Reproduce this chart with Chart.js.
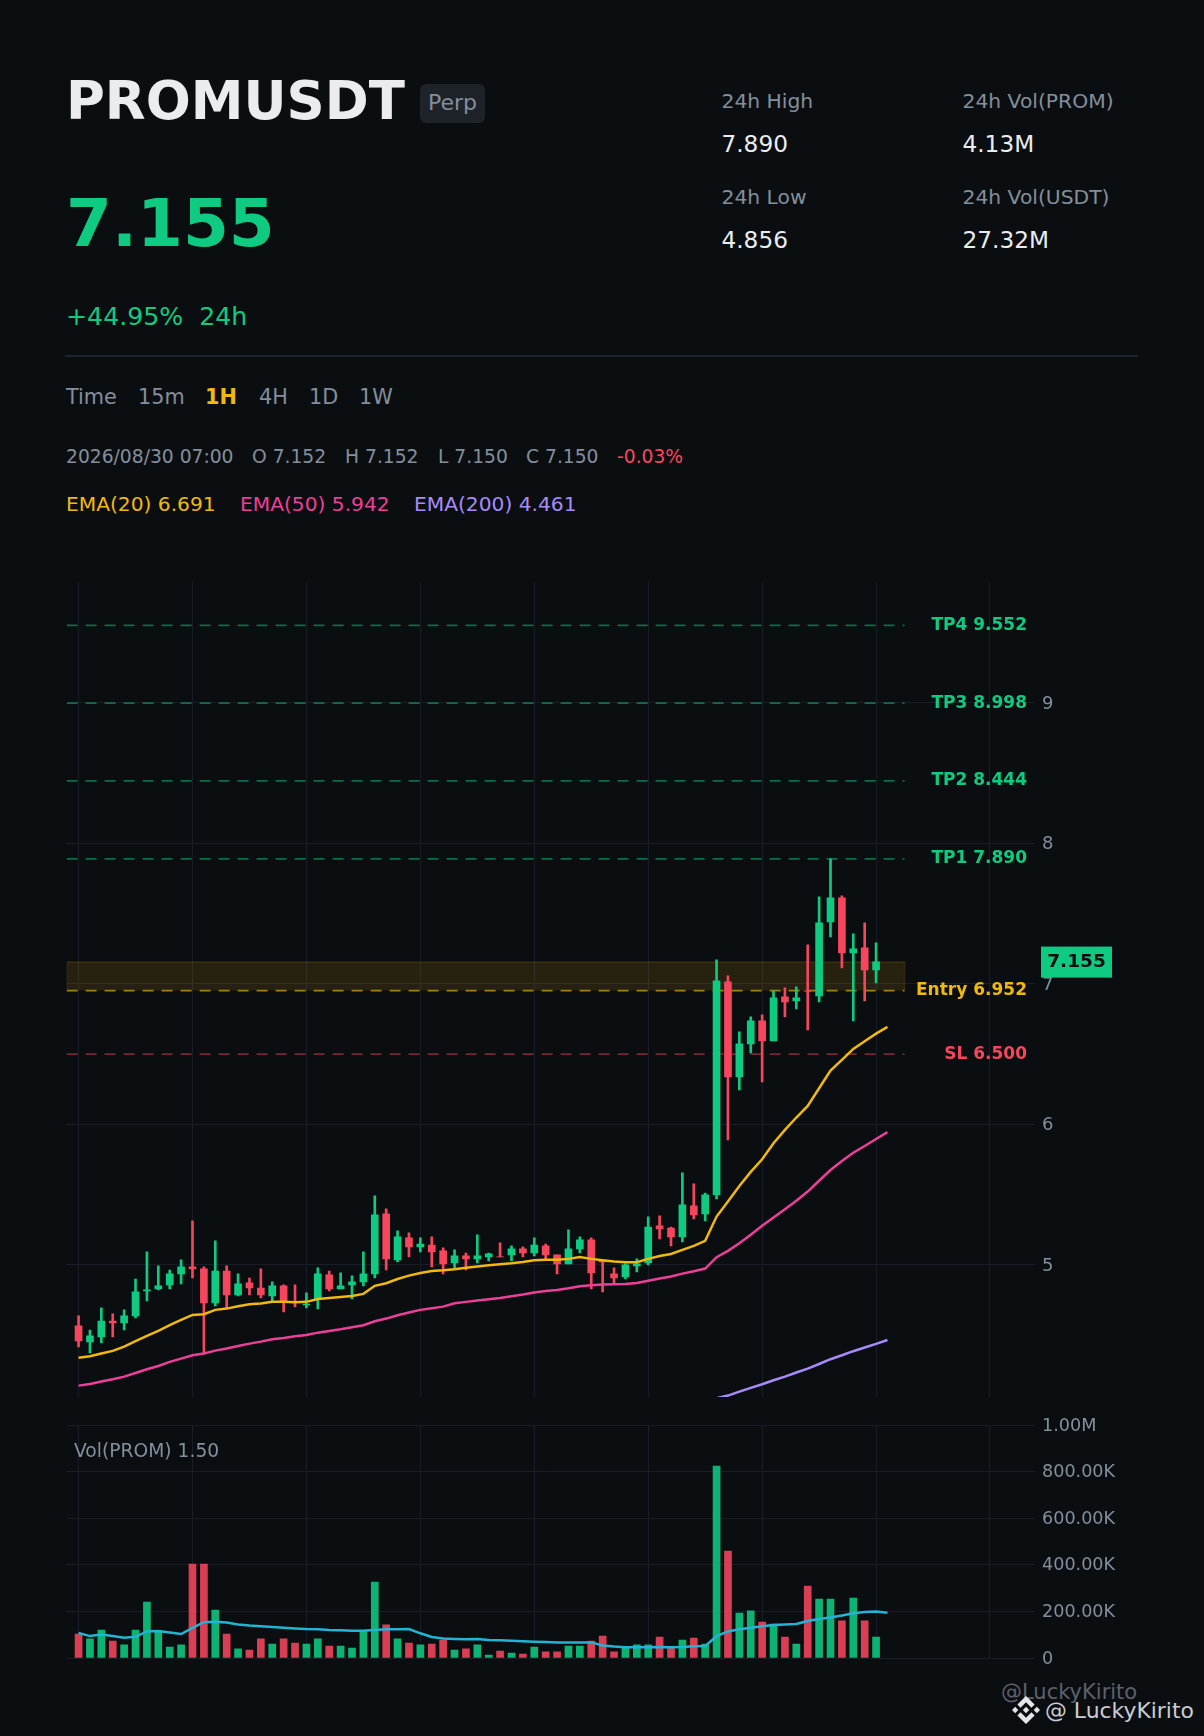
<!DOCTYPE html>
<html>
<head>
<meta charset="utf-8">
<title>PROMUSDT Perp</title>
<script src="https://cdn.jsdelivr.net/npm/chart.js@4"></script>
<style>
   html, body { margin: 0; padding: 0; background: #0b0e11; }
   #page { position: relative; width: 1204px; height: 1736px; background: #0b0e11; overflow: hidden;
      font-family: "DejaVu Sans", sans-serif; color: #848e9c; }
   #page canvas { position: absolute; left: 0; }
   .t { position: absolute; white-space: pre; line-height: 1; }
   .label { font-size: 20.3px; color: #848e9c; }
   .value { font-size: 23.2px; color: #eaecef; }
   .tab { font-size: 20.8px; color: #848e9c; top: 387px; }
   .ohlc { font-size: 18.7px; color: #848e9c; top: 448px; }
   .ema { font-size: 20.2px; top: 494px; }
   #divider { position: absolute; left: 65px; top: 355px; width: 1073px; height: 2px; background: #1e2330; }
   #perp { position: absolute; left: 420px; top: 84px; width: 65px; height: 39px; border-radius: 6px;
      background: #1e2329; color: #848e9c; font-size: 22px; line-height: 38px; text-align: center; }
</style>
</head>
<body>
<div id="page">
   <div class="t" style="left:66px;top:74px;font-size:53px;font-weight:bold;color:#eaecef">PROMUSDT</div>
   <div id="perp">Perp</div>
   <div class="t" style="left:66px;top:191px;font-size:66px;font-weight:bold;color:#0ecb81">7.155</div>
   <div class="t" style="left:66px;top:304px;font-size:25.2px;color:#0ecb81">+44.95%  24h</div>

   <div class="t label" style="left:721.5px;top:91px">24h High</div>
   <div class="t value" style="left:721.5px;top:132px">7.890</div>
   <div class="t label" style="left:962.5px;top:91px">24h Vol(PROM)</div>
   <div class="t value" style="left:962.5px;top:132px">4.13M</div>
   <div class="t label" style="left:721.5px;top:187px">24h Low</div>
   <div class="t value" style="left:721.5px;top:228px">4.856</div>
   <div class="t label" style="left:962.5px;top:187px">24h Vol(USDT)</div>
   <div class="t value" style="left:962.5px;top:228px">27.32M</div>

   <div id="divider"></div>

   <div class="t tab" style="left:66px">Time</div>
   <div class="t tab" style="left:138px">15m</div>
   <div class="t tab" style="left:205px;color:#f0b90b;font-weight:bold">1H</div>
   <div class="t tab" style="left:259px">4H</div>
   <div class="t tab" style="left:309px">1D</div>
   <div class="t tab" style="left:359px">1W</div>

   <div class="t ohlc" style="left:66px">2026/08/30 07:00</div>
   <div class="t ohlc" style="left:252px">O 7.152</div>
   <div class="t ohlc" style="left:345px">H 7.152</div>
   <div class="t ohlc" style="left:438px">L 7.150</div>
   <div class="t ohlc" style="left:526px">C 7.150</div>
   <div class="t ohlc" style="left:617px;color:#f6465d">-0.03%</div>

   <div class="t ema" style="left:66px;color:#f0b90b">EMA(20) 6.691</div>
   <div class="t ema" style="left:240px;color:#ec3f98">EMA(50) 5.942</div>
   <div class="t ema" style="left:414px;color:#a78bfa">EMA(200) 4.461</div>

   <canvas id="price-chart" width="1204" height="853" style="top:563px"></canvas>
   <canvas id="volume-chart" width="1204" height="271" style="top:1406px"></canvas>

   <div class="t" style="left:74px;top:1442px;font-size:18.7px;color:#848e9c">Vol(PROM) 1.50</div>

   <div class="t" style="left:1001px;top:1682px;font-size:21px;color:#5b616b">@LuckyKirito</div>
   <svg style="position:absolute;left:1012px;top:1696px" width="28" height="28" viewBox="0 0 126.61 126.61" fill="#e3e5e8">
      <path d="m38.73 53.2 24.59-24.58 24.6 24.6 14.3-14.31L63.32 0 24.43 38.9z"/>
      <path d="m0 63.31 14.3-14.31 14.31 14.31-14.31 14.3z"/>
      <path d="m38.73 73.41 24.59 24.59 24.6-24.6 14.31 14.29-38.9 38.91-38.91-38.88-.02-.02z"/>
      <path d="m98 63.31 14.3-14.31 14.31 14.3-14.31 14.32z"/>
      <path d="m77.83 63.3-14.51-14.52-10.73 10.73-1.24 1.23-2.54 2.54 14.51 14.5 14.51-14.47z"/>
   </svg>
   <div class="t" style="left:1045px;top:1700px;font-size:21.9px;color:#c9ccd1">@ LuckyKirito</div>
</div>

<script>
/*=======================================
 Data
========================================*/
const opens = [4.566,4.452,4.488,4.601,4.587,4.637,4.815,4.829,4.858,4.936,
   4.986,4.972,4.730,4.957,4.786,4.872,4.836,4.779,4.851,4.741,
   4.715,4.758,4.929,4.829,4.858,4.879,4.936,5.363,5.036,5.192,
   5.128,5.142,5.100,5.014,5.064,5.043,5.057,5.057,5.071,5.114,
   5.085,5.135,5.071,5.007,5.114,5.178,5.028,4.936,4.915,4.993,
   5.014,5.278,5.263,5.199,5.420,5.363,5.498,7.014,6.338,6.573,
   6.737,6.594,6.907,6.879,6.950,6.915,7.441,7.612,7.221,7.256,7.100];
const highs = [4.637,4.537,4.694,4.651,4.680,4.900,5.093,4.993,4.964,5.036,
   5.313,4.986,5.171,4.993,4.936,4.907,4.972,4.879,4.858,4.858,
   4.801,4.979,4.957,4.943,4.922,5.093,5.491,5.399,5.242,5.228,
   5.192,5.199,5.121,5.107,5.085,5.214,5.085,5.157,5.135,5.128,
   5.192,5.149,5.071,5.249,5.199,5.192,5.028,4.979,5.007,5.043,
   5.342,5.349,5.270,5.655,5.577,5.512,7.171,7.057,6.658,6.765,
   6.779,6.950,6.972,6.979,7.278,7.619,7.890,7.626,7.356,7.434,7.292];
const lows = [4.416,4.374,4.445,4.488,4.537,4.623,4.744,4.822,4.829,4.865,
   4.907,4.367,4.708,4.694,4.779,4.786,4.765,4.737,4.665,4.701,
   4.694,4.687,4.815,4.829,4.758,4.851,4.907,4.964,5.021,5.057,
   5.093,4.986,4.936,4.979,4.964,5.014,5.028,5.057,5.028,5.057,
   5.064,5.036,4.936,5.007,5.085,4.829,4.808,4.865,4.900,4.950,
   5.000,5.185,5.135,5.164,5.327,5.313,5.470,5.890,6.246,6.509,
   6.302,6.594,6.765,6.822,6.673,6.872,7.335,7.114,6.737,6.879,7.007];
const closes = [4.459,4.495,4.601,4.587,4.637,4.808,4.822,4.851,4.936,4.986,
   4.972,4.730,4.957,4.786,4.865,4.836,4.786,4.851,4.737,4.732,
   4.722,4.936,4.829,4.851,4.879,4.936,5.356,5.043,5.199,5.128,
   5.149,5.093,5.007,5.064,5.043,5.064,5.078,5.056,5.114,5.085,
   5.142,5.071,5.007,5.114,5.178,4.943,5.021,4.907,5.000,5.007,
   5.270,5.256,5.199,5.427,5.356,5.498,7.021,6.338,6.573,6.737,
   6.594,6.900,6.872,6.900,6.949,7.434,7.612,7.221,7.249,7.100,7.157];

// the moving averages run one step past the last candle
const ema20 = [4.340,4.350,4.369,4.388,4.419,4.457,4.495,4.530,4.571,4.609,
   4.644,4.649,4.680,4.689,4.706,4.720,4.725,4.737,4.737,4.734,
   4.737,4.758,4.765,4.772,4.779,4.794,4.851,4.870,4.900,4.924,
   4.943,4.957,4.962,4.969,4.979,4.988,4.998,5.005,5.012,5.021,
   5.033,5.036,5.036,5.043,5.057,5.043,5.033,5.024,5.019,5.019,
   5.043,5.064,5.078,5.107,5.135,5.171,5.344,5.451,5.562,5.662,
   5.752,5.866,5.961,6.049,6.132,6.257,6.383,6.459,6.537,6.592,6.646,6.694];
const ema50 = [4.141,4.153,4.170,4.186,4.205,4.231,4.257,4.281,4.310,4.333,
   4.357,4.369,4.390,4.405,4.423,4.440,4.454,4.471,4.480,4.492,
   4.502,4.518,4.530,4.542,4.556,4.571,4.599,4.618,4.642,4.661,
   4.680,4.692,4.703,4.727,4.737,4.746,4.756,4.765,4.777,4.789,
   4.803,4.815,4.822,4.834,4.848,4.855,4.860,4.862,4.865,4.872,
   4.888,4.903,4.917,4.938,4.955,4.974,5.055,5.100,5.154,5.214,
   5.278,5.337,5.396,5.456,5.522,5.599,5.675,5.739,5.798,5.846,5.896,5.945];
// only this end of the EMA(200) is above the bottom of the chart
const ema200Start = 55;
const ema200 = [4.030,4.052,4.070,4.098,4.125,4.151,4.179,4.205,4.234,
   4.262,4.295,4.329,4.357,4.386,4.412,4.438,4.466];

// volumes in thousands
const volumes = [103,82,120,73,56,120,240,116,47,56,
   403,403,206,103,39,34,82,60,82,64,
   60,82,51,51,43,116,326,142,82,64,
   56,60,77,34,39,56,13,30,21,17,
   47,26,26,51,51,73,94,26,47,56,
   56,90,43,77,86,60,824,459,193,202,
   154,146,90,60,309,253,253,159,257,159,90];
const volumeMa = [107,94,101,94,87,91,114,116,109,103,
   129,154,156,152,144,139,136,133,130,127,
   124,123,120,119,117,117,120,123,123,124,
   106,90,84,82,80,82,77,76,74,72,
   70,69,67,67,67,67,54,49,46,46,
   46,47,46,47,50,51,94,114,123,130,
   136,142,144,146,159,167,174,182,192,197,200,194];
const volumeTicks = {0: '0', 200: '200.00K', 400: '400.00K', 600: '600.00K', 800: '800.00K', 1000: '1.00M'};

const levelNames = ['TP4', 'TP3', 'TP2', 'TP1', 'Entry', 'SL'];
const levelValues = [9.552, 8.998, 8.444, 7.890, 6.952, 6.500];
const lastPrice = 7.155;
const entryPrice = 6.952;

/*=======================================
 Shared settings
========================================*/
const GREEN = '#0ecb81', RED = '#f6465d', AMBER = '#f0b90b';
const PINK = '#ec3f98', PURPLE = '#a78bfa', CYAN = '#22b5d3';
const GRID = '#191d27', TICK = '#848e9c';
const FONT = '"DejaVu Sans", sans-serif';
const X_MIN = -1.05, X_MAX = 83.95, LEVEL_END = 72.5;

const levelLine = ['rgba(14,203,129,.5)', 'rgba(14,203,129,.5)', 'rgba(14,203,129,.5)',
   'rgba(14,203,129,.5)', 'rgba(240,185,11,.65)', 'rgba(246,70,93,.45)'];
const levelText = [GREEN, GREEN, GREEN, GREEN, AMBER, RED];

const indexes = opens.map((o, i) => i);
const isUp = i => closes[i] >= opens[i];
const candleColors = indexes.map(i => isUp(i) ? GREEN : RED);
const volumeColors = indexes.map(i => isUp(i) ? 'rgba(14,203,129,.88)' : 'rgba(246,70,93,.88)');
const toPoints = (values, start = 0) => values.map((y, i) => ({x: i + start, y: y}));

function xAxis() {
   return {
      type: 'linear', min: X_MIN, max: X_MAX, offset: false,
      ticks: {display: false, stepSize: 10, includeBounds: false},
      grid: {color: GRID, offset: false, drawTicks: false},
      border: {display: false}
   };
}

function lineSet(values, color, start, order) {
   return {
      type: 'line', data: toPoints(values, start), borderColor: color, borderWidth: 2.5,
      pointRadius: 0, tension: 0, fill: false, order: order
   };
}

/*=======================================
 Price chart
========================================*/
// level names on the right and the tag with the last price
const priceLabels = {
   id: 'priceLabels',
   afterDraw(chart) {
      const c = chart.ctx, y = chart.scales.y;
      c.save();
      c.textBaseline = 'middle';
      c.textAlign = 'right';
      c.font = 'bold 17px ' + FONT;
      levelNames.forEach((name, i) => {
         c.fillStyle = levelText[i];
         c.fillText(name + ' ' + levelValues[i].toFixed(3), 1027, y.getPixelForValue(levelValues[i]));
      });
      const py = y.getPixelForValue(lastPrice);
      c.fillStyle = GREEN;
      c.fillRect(1041, py - 15.5, 71, 31);
      c.fillStyle = '#0b0e11';
      c.textAlign = 'center';
      c.font = 'bold 18.5px ' + FONT;
      c.fillText(lastPrice.toFixed(3), 1076.5, py);
      c.restore();
   }
};

const levelSets = levelValues.map((v, i) => ({
   type: 'line',
   data: [{x: X_MIN, y: v}, {x: LEVEL_END, y: v}],
   borderColor: levelLine[i], borderWidth: 1.8, borderDash: [11, 8],
   pointRadius: 0, fill: false, order: 4
}));

new Chart(document.getElementById('price-chart'), {
   type: 'bar',
   data: {
      datasets: [
         lineSet(ema20, AMBER, 0, 1),
         lineSet(ema50, PINK, 0, 1),
         lineSet(ema200, PURPLE, ema200Start, 1),
         {
            data: indexes.map(i => ({x: i, y: [opens[i], closes[i]]})),
            backgroundColor: candleColors, barThickness: 7, grouped: false, order: 2
         },
         {
            data: indexes.map(i => ({x: i, y: [lows[i], highs[i]]})),
            backgroundColor: candleColors, barThickness: 2, grouped: false, order: 3
         },
         ...levelSets,
         {
            // entry zone
            type: 'line',
            data: [{x: X_MIN, y: entryPrice}, {x: X_MIN, y: lastPrice}, {x: LEVEL_END, y: lastPrice}, {x: LEVEL_END, y: entryPrice}],
            borderColor: 'rgba(240,185,11,.14)', borderWidth: 1.5, pointRadius: 0, tension: 0,
            backgroundColor: 'rgba(240,185,11,.12)', fill: {value: entryPrice}, order: 5
         }
      ]
   },
   options: {
      responsive: false,
      animation: false,
      events: [],
      layout: {padding: {left: 66.6, right: 0, top: 19, bottom: 19}},
      plugins: {legend: {display: false}, tooltip: {enabled: false}},
      scales: {
         x: xAxis(),
         y: {
            position: 'right', min: 4.06, max: 9.86,
            afterFit: s => { s.width = 169; },
            ticks: {stepSize: 1, includeBounds: false, color: TICK, padding: 7, labelOffset: 1, font: {family: FONT, size: 18}},
            grid: {color: GRID, drawTicks: false},
            border: {display: false}
         }
      }
   },
   plugins: [priceLabels]
});

/*=======================================
 Volume chart
========================================*/
new Chart(document.getElementById('volume-chart'), {
   type: 'bar',
   data: {
      datasets: [
         lineSet(volumeMa, CYAN, 0, 1),
         {
            data: indexes.map(i => ({x: i, y: volumes[i]})),
            backgroundColor: volumeColors, barThickness: 7, grouped: false, order: 2
         }
      ]
   },
   options: {
      responsive: false,
      animation: false,
      events: [],
      layout: {padding: {left: 66.6, right: 0, top: 19, bottom: 19}},
      plugins: {legend: {display: false}, tooltip: {enabled: false}},
      scales: {
         x: xAxis(),
         y: {
            position: 'right', min: 0, max: 1000,
            afterFit: s => { s.width = 169; },
            ticks: {
               stepSize: 200, color: TICK, padding: 7, labelOffset: 1, font: {family: FONT, size: 17.6},
               callback: v => volumeTicks[v]
            },
            grid: {color: GRID, drawTicks: false},
            border: {display: false}
         }
      }
   }
});
</script>
</body>
</html>
